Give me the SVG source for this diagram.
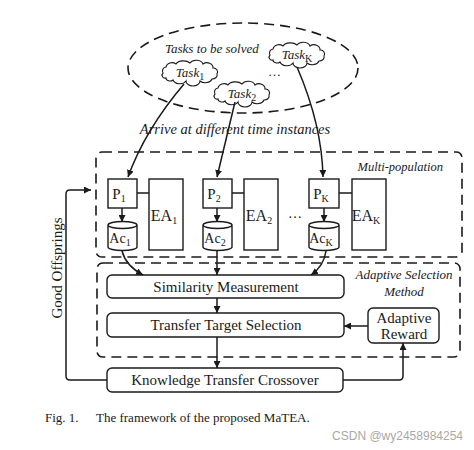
<svg xmlns="http://www.w3.org/2000/svg" width="474" height="450" viewBox="0 0 474 450">
<defs>
<style>
.t{font-family:"Liberation Serif","Times New Roman",serif;fill:#1a1a1a}
.i{font-style:italic}
.box{fill:#fff;stroke:#1a1a1a;stroke-width:1.4}
.dash{fill:none;stroke:#1a1a1a;stroke-width:1.6;stroke-dasharray:10 6}
.ln{fill:none;stroke:#1a1a1a;stroke-width:1.5}
.sub{font-size:10px}
</style>
<marker id="ah" viewBox="0 0 10 10" refX="10" refY="5" markerWidth="7" markerHeight="7" markerUnits="userSpaceOnUse" orient="auto">
<path d="M0,0 L10,5 L0,10 z" fill="#1a1a1a"/>
</marker>
<path id="cloud" d="M-27,1 A4,4 0 0 1 -24,-5 A6,5 0 0 1 -14,-8 A8,5 0 0 1 0,-9 A7,5 0 0 1 13,-8 A6,5 0 0 1 23,-4 A4,4 0 0 1 27,2 A5,4 0 0 1 22,7 A7,5 0 0 1 10,9 A7,5 0 0 1 -4,9 A7,5 0 0 1 -17,8 A4,3 0 0 1 -24,6 A3,3 0 0 1 -27,1 Z" fill="#fff" stroke="#1a1a1a" stroke-width="1.1"/>
</defs>
<rect width="474" height="450" fill="#fff"/>

<g id="tasks">
<ellipse cx="243" cy="68" rx="115" ry="45" class="dash" stroke-dasharray="11 7" stroke-width="1.8"/>
<text x="165" y="53" class="t i" font-size="13">Tasks to be solved</text>
<text x="268" y="76" class="t" font-size="13">…</text>
</g>
<g id="task1">
<use href="#cloud" x="190" y="72"/>
<text x="190" y="77" class="t" font-size="13" text-anchor="middle"><tspan font-style="italic">Task</tspan><tspan class="sub" dy="3">1</tspan></text>
</g>
<g id="task2">
<use href="#cloud" x="242" y="93"/>
<text x="242" y="98" class="t" font-size="13" text-anchor="middle"><tspan font-style="italic">Task</tspan><tspan class="sub" dy="3">2</tspan></text>
</g>
<g id="taskK">
<use href="#cloud" x="297" y="54"/>
<text x="297" y="59" class="t" font-size="13" text-anchor="middle"><tspan font-style="italic">Task</tspan><tspan class="sub" dy="3">K</tspan></text>
</g>

<text x="235" y="134" class="t i" font-size="14.5" text-anchor="middle">Arrive at different time instances</text>

<g id="multipop">
<rect x="96" y="152" width="366" height="105" rx="6" class="dash"/>
<text x="443" y="171" class="t i" font-size="12.5" text-anchor="end">Multi-population</text>
</g>

<g id="adaptive">
<rect x="97" y="263" width="363" height="94" rx="6" class="dash"/>
<text x="404" y="279" class="t i" font-size="13" text-anchor="middle">Adaptive Selection</text>
<text x="404" y="296" class="t i" font-size="13" text-anchor="middle">Method</text>
</g>

<g id="P1">
<rect x="108" y="179" width="29" height="29" class="box"/>
<text x="119" y="199" class="t" font-size="15" text-anchor="middle">P<tspan class="sub" dy="3">1</tspan></text>
</g>
<g id="EA1">
<rect x="149" y="179" width="34" height="71" class="box"/>
<text x="164" y="221" class="t" font-size="16" text-anchor="middle">EA<tspan class="sub" dy="3">1</tspan></text>
</g>
<g id="Ac1">
<path d="M108,225 A14.5,3.5 0 0 1 137,225 V247 A14.5,3.5 0 0 1 108,247 Z M108,225 A14.5,3.5 0 0 0 137,225" class="box"/>
<text x="120" y="243" class="t" font-size="14" text-anchor="middle">Ac<tspan class="sub" dy="3">1</tspan></text>
</g>

<g id="P2">
<rect x="203" y="179" width="29" height="29" class="box"/>
<text x="214" y="199" class="t" font-size="15" text-anchor="middle">P<tspan class="sub" dy="3">2</tspan></text>
</g>
<g id="EA2">
<rect x="244" y="179" width="34" height="71" class="box"/>
<text x="259" y="221" class="t" font-size="16" text-anchor="middle">EA<tspan class="sub" dy="3">2</tspan></text>
</g>
<g id="Ac2">
<path d="M203,225 A14.5,3.5 0 0 1 232,225 V247 A14.5,3.5 0 0 1 203,247 Z M203,225 A14.5,3.5 0 0 0 232,225" class="box"/>
<text x="215" y="243" class="t" font-size="14" text-anchor="middle">Ac<tspan class="sub" dy="3">2</tspan></text>
</g>

<text x="295" y="218" class="t" font-size="14" text-anchor="middle">…</text>

<g id="PK">
<rect x="309" y="179" width="30" height="29" class="box"/>
<text x="321" y="199" class="t" font-size="15" text-anchor="middle">P<tspan class="sub" dy="3">K</tspan></text>
</g>
<g id="EAK">
<rect x="352" y="179" width="34" height="71" class="box"/>
<text x="366" y="221" class="t" font-size="16" text-anchor="middle">EA<tspan class="sub" dy="3">K</tspan></text>
</g>
<g id="AcK">
<path d="M309,225 A15,3.5 0 0 1 339,225 V247 A15,3.5 0 0 1 309,247 Z M309,225 A15,3.5 0 0 0 339,225" class="box"/>
<text x="321" y="243" class="t" font-size="14" text-anchor="middle">Ac<tspan class="sub" dy="3">K</tspan></text>
</g>

<g id="similarity">
<rect x="107" y="275" width="237" height="23" rx="5" class="box"/>
<text x="226" y="292" class="t" font-size="15" text-anchor="middle">Similarity Measurement</text>
</g>
<g id="tts">
<rect x="107" y="313" width="237" height="24" rx="5" class="box"/>
<text x="226" y="330" class="t" font-size="15" text-anchor="middle">Transfer Target Selection</text>
</g>
<g id="reward">
<rect x="368" y="308" width="71" height="35" rx="5" class="box"/>
<text x="404" y="323" class="t" font-size="15" text-anchor="middle">Adaptive</text>
<text x="404" y="339" class="t" font-size="15" text-anchor="middle">Reward</text>
</g>
<g id="ktc">
<rect x="107" y="368" width="236" height="24" rx="5" class="box"/>
<text x="225" y="385" class="t" font-size="15" text-anchor="middle">Knowledge Transfer Crossover</text>
</g>

<text transform="translate(62,268) rotate(-90)" class="t" font-size="15" text-anchor="middle">Good Offsprings</text>

<g id="connectors">
<path d="M184,84 Q145,130 128,177" class="ln" marker-end="url(#ah)"/>
<path d="M235,102 L217,177" class="ln" marker-end="url(#ah)"/>
<path d="M297,67 Q322,125 323,177" class="ln" marker-end="url(#ah)"/>
<path d="M137,193 H149 M232,193 H244 M339,193 H352" class="ln" stroke-width="1.3"/>
<path d="M122,208 V222" class="ln" stroke-width="1.2" marker-end="url(#ah)"/>
<path d="M217,208 V222" class="ln" stroke-width="1.2" marker-end="url(#ah)"/>
<path d="M324,208 V222" class="ln" stroke-width="1.2" marker-end="url(#ah)"/>
<path d="M122,251 Q126,266 143,275" class="ln" marker-end="url(#ah)"/>
<path d="M217,251 V275" class="ln" marker-end="url(#ah)"/>
<path d="M326,251 Q324,266 311,275" class="ln" marker-end="url(#ah)"/>
<path d="M217,298 V313" class="ln" marker-end="url(#ah)"/>
<path d="M217,337 V368" class="ln" marker-end="url(#ah)"/>
<path d="M368,326 H344" class="ln" marker-end="url(#ah)"/>
<path d="M343,380 H399 Q403,380 403,376 V343" class="ln" marker-end="url(#ah)"/>
<path d="M107,380 H70 Q66,380 66,376 V194 Q66,190 70,190 H91" class="ln" marker-end="url(#ah)"/>
</g>

<text x="45" y="422" class="t" font-size="13">Fig. 1.</text>
<text x="96" y="422" class="t" font-size="13">The framework of the proposed MaTEA.</text>
<text x="463" y="440" font-family="Liberation Sans, Arial, sans-serif" font-size="12" fill="#a8a8a8" text-anchor="end">CSDN @wy2458984254</text>
</svg>
